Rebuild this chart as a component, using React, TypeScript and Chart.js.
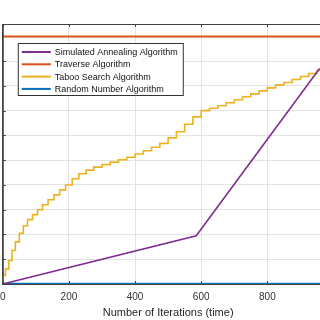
import React, { useEffect, useRef } from "react";
import { Chart, registerables } from "chart.js";
Chart.register(...registerables);

const seriesNames = [
  "Simulated Annealing Algorithm",
  "Traverse Algorithm",
  "Taboo Search Algorithm",
  "Random Number Algorithm",
];
const seriesColors = ["#7E2F8E", "#D95319", "#EDB120", "#0072BD"];

const annealX = [0, 585, 958];
const annealY = [0, 1.95, 8.7];

const traverseX = [0, 960];
const traverseY = [10, 10];

const tabooX = [0, 0, 8, 18, 28, 38, 50, 62, 75, 90, 105, 120, 137, 155, 172, 190, 210, 230, 252, 275, 300, 325, 350, 375, 400, 425, 450, 475, 500, 525, 550, 575, 600, 625, 650, 675, 700, 725, 750, 775, 800, 825, 850, 875, 900, 925, 950, 958];
const tabooY = [0, 0.35, 0.6, 0.95, 1.35, 1.7, 2.05, 2.35, 2.6, 2.8, 3.0, 3.2, 3.4, 3.6, 3.8, 4.0, 4.25, 4.45, 4.6, 4.72, 4.82, 4.92, 5.02, 5.12, 5.25, 5.38, 5.52, 5.68, 5.9, 6.15, 6.45, 6.75, 7.0, 7.1, 7.2, 7.32, 7.44, 7.56, 7.68, 7.8, 7.92, 8.04, 8.14, 8.26, 8.38, 8.5, 8.62, 8.68];

const randomX = [0, 960];
const randomY = [0, 0];

const xMin = 0;
const xMax = 1000;
const xStep = 200;
const yMin = 0;
const yMax = 10.5;
const yStep = 1;
const xTitle = "Number of Iterations (time)";

const FONT = "'Liberation Sans', Arial, Helvetica, sans-serif";

const pts = (xs: number[], ys: number[]) => xs.map((x, i) => ({ x, y: ys[i] }));

const frame = {
  id: "frame",
  afterDatasetsDraw(chart: any) {
    const { ctx, chartArea: a, scales } = chart;
    ctx.save();
    ctx.strokeStyle = "#404040";
    ctx.lineWidth = 1;
    ctx.beginPath();
    ctx.moveTo(a.left, a.top + 0.5);
    ctx.lineTo(a.right, a.top + 0.5);
    ctx.moveTo(a.left + 0.5, a.top);
    ctx.lineTo(a.left + 0.5, a.bottom);
    scales.y.ticks.forEach((t: any) => {
      const py = Math.round(scales.y.getPixelForValue(t.value)) + 0.5;
      ctx.moveTo(a.left, py);
      ctx.lineTo(a.left + 3, py);
    });
    scales.x.ticks.forEach((t: any) => {
      const px = Math.round(scales.x.getPixelForValue(t.value)) + 0.5;
      ctx.moveTo(px, a.top);
      ctx.lineTo(px, a.top + 3);
      ctx.moveTo(px, a.bottom);
      ctx.lineTo(px, a.bottom - 3);
    });
    ctx.stroke();
    ctx.restore();
  },
  afterDraw(chart: any) {
    const { ctx, chartArea: a } = chart;
    const bx = a.left + 15;
    const by = a.top + 19;
    const bw = 165;
    const bh = 52;
    ctx.save();
    ctx.fillStyle = "#ffffff";
    ctx.fillRect(bx, by, bw, bh);
    ctx.strokeStyle = "#333333";
    ctx.lineWidth = 1;
    ctx.strokeRect(bx + 0.5, by + 0.5, bw, bh);
    ctx.font = `9px ${FONT}`;
    ctx.textBaseline = "middle";
    ctx.textAlign = "left";
    chart.data.datasets.forEach((ds: any, i: number) => {
      const y = by + 9 + i * 12.3;
      ctx.strokeStyle = ds.borderColor;
      ctx.lineWidth = 2;
      ctx.beginPath();
      ctx.moveTo(bx + 4, y);
      ctx.lineTo(bx + 33, y);
      ctx.stroke();
      ctx.fillStyle = "#111111";
      ctx.fillText(ds.label, bx + 37, y + 0.5);
    });
    ctx.restore();
  },
};

export default function App() {
  const ref = useRef<HTMLCanvasElement>(null);
  useEffect(() => {
    if (!ref.current) return;
    const chart = new Chart(ref.current, {
      type: "line",
      data: {
        datasets: [
          { label: seriesNames[0], data: pts(annealX, annealY), borderColor: seriesColors[0], borderWidth: 1.6, pointRadius: 0, tension: 0 },
          { label: seriesNames[1], data: pts(traverseX, traverseY), borderColor: seriesColors[1], borderWidth: 2, pointRadius: 0 },
          { label: seriesNames[2], data: pts(tabooX, tabooY), borderColor: seriesColors[2], borderWidth: 1.6, pointRadius: 0, stepped: "before" },
          { label: seriesNames[3], data: pts(randomX, randomY), borderColor: seriesColors[3], borderWidth: 2.5, pointRadius: 0 },
        ] as any,
      },
      options: {
        animation: false,
        responsive: false,
        devicePixelRatio: 1,
        layout: { padding: { left: 3, top: 24, right: 12, bottom: 0 } },
        plugins: { legend: { display: false }, tooltip: { enabled: false } },
        scales: {
          x: {
            type: "linear",
            min: xMin,
            max: xMax,
            ticks: { stepSize: xStep, padding: 7, color: "#333333", font: { family: FONT, size: 10 }, maxRotation: 0 },
            grid: { color: "#e3e3e3", drawTicks: false },
            border: { color: "#404040" },
            title: { display: true, text: xTitle, color: "#262626", font: { family: FONT, size: 11 }, padding: { top: 0, bottom: 0 } },
            afterFit: (s: any) => { s.height = 36; },
          },
          y: {
            type: "linear",
            min: yMin,
            max: yMax,
            ticks: { stepSize: yStep, display: false },
            grid: { color: "#e3e3e3", drawTicks: false },
            border: { color: "#404040" },
            afterFit: (s: any) => { s.width = 0; },
          },
        },
      },
      plugins: [frame],
    });
    return () => chart.destroy();
  }, []);
  return (
    <div style={{ position: "fixed", left: 0, top: 0, width: 320, height: 320, overflow: "hidden", background: "#fff" }}>
      <canvas ref={ref} width={360} height={320} style={{ width: 360, height: 320, display: "block", marginLeft: -7 }} />
    </div>
  );
}
